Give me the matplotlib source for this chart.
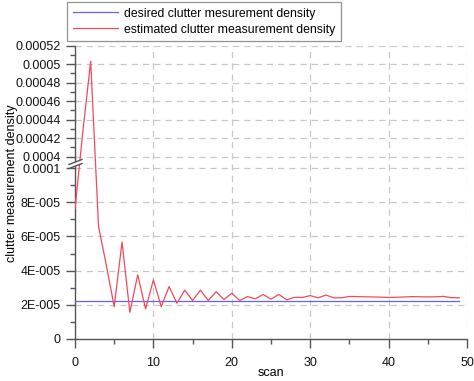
import numpy as np
import matplotlib
matplotlib.use("Agg")
import matplotlib.pyplot as plt
from matplotlib.lines import Line2D
from matplotlib.patches import Polygon

plt.rcParams['font.family'] = ['Liberation Sans', 'DejaVu Sans']
plt.rcParams['font.size'] = 8.8

# ---- data ----
scan = list(range(50))
estimated = [7.6e-5, 4.27e-4, 5.03e-4, 6.6e-5, 4.3e-5, 1.88e-5, 5.67e-5, 1.55e-5, 3.75e-5, 1.75e-5,
             3.45e-5, 1.88e-5, 3.06e-5, 2.08e-5, 2.85e-5, 2.24e-5, 2.85e-5, 2.24e-5, 2.76e-5, 2.30e-5,
             2.67e-5, 2.24e-5, 2.47e-5, 2.34e-5, 2.60e-5, 2.32e-5, 2.60e-5, 2.28e-5, 2.43e-5, 2.42e-5,
             2.53e-5, 2.40e-5, 2.56e-5, 2.40e-5, 2.40e-5, 2.48e-5, 2.47e-5, 2.46e-5, 2.45e-5, 2.44e-5,
             2.42e-5, 2.43e-5, 2.45e-5, 2.47e-5, 2.46e-5, 2.45e-5, 2.46e-5, 2.48e-5, 2.41e-5, 2.40e-5]
desired = [2.2e-5] * 50
xticks = [0, 10, 20, 30, 40, 50]
yticks = [0, 2e-5, 4e-5, 6e-5, 8e-5, 1e-4, 4e-4, 4.2e-4, 4.4e-4, 4.6e-4, 4.8e-4, 5e-4, 5.2e-4]
ytick_labels = ["0", "2E-005", "4E-005", "6E-005", "8E-005", "0.0001", "0.0004",
                "0.00042", "0.00044", "0.00046", "0.00048", "0.0005", "0.00052"]
y_minor = [1e-5, 3e-5, 5e-5, 7e-5, 9e-5, 4.1e-4, 4.3e-4, 4.5e-4, 4.7e-4, 4.9e-4, 5.1e-4]

W, H = 474, 381
fig = plt.figure(figsize=(W / 100, H / 100), dpi=100)

# axes geometry (pixels)
x0, x1 = 75, 467
yb, yt = 338.7, 45.5
ax = fig.add_axes([x0 / W, (H - yb) / H, (x1 - x0) / W, (yb - yt) / H])

# piecewise (broken) y scale
lo_px = 170.4
gap_px = 11.6
hi_px = (yb - yt) - lo_px - gap_px
lo_top, hi_bot, hi_top = 1e-4, 4e-4, 5.2e-4
xp = np.array([-1.0, 0.0, lo_top, hi_bot, hi_top, 1.0])
s_lo = lo_px / lo_top
s_hi = hi_px / (hi_top - hi_bot)
fp = np.array([-1.0 * s_lo, 0.0, lo_px, lo_px + gap_px, lo_px + gap_px + hi_px,
               lo_px + gap_px + hi_px + (1.0 - hi_top) * s_hi])


def fwd(y):
    return np.interp(y, xp, fp)


def inv(v):
    return np.interp(v, fp, xp)


ax.set_yscale('function', functions=(fwd, inv))

red = '#f5485a'
blue = '#6262f5'
ax.plot(scan, desired, color=blue, lw=0.9, label='desired clutter mesurement density', zorder=3)
ax.plot(scan, estimated, color=red, lw=0.9, label='estimated clutter measurement density', zorder=4)

ax.set_xlim(0, 50)
ax.set_ylim(0, 5.2e-4)
ax.set_xticks(xticks)
ax.set_xticks([5, 15, 25, 35, 45], minor=True)
ax.set_yticks(yticks)
ax.set_yticklabels(ytick_labels)
ax.set_yticks(y_minor, minor=True)

spine_c = '#555555'
for s in ['top', 'right']:
    ax.spines[s].set_visible(False)
for s in ['left', 'bottom']:
    ax.spines[s].set_color(spine_c)
    ax.spines[s].set_linewidth(1.0)

ax.tick_params(axis='both', which='major', length=6.5, width=1.0, color=spine_c,
               labelcolor='#111111', labelsize=9)
ax.tick_params(axis='both', which='minor', length=3.6, width=1.0, color=spine_c)
ax.tick_params(axis='y', which='major', pad=4)
ax.tick_params(axis='x', which='major', pad=7)

ax.grid(True, which='major', color='#c8c8c8', linestyle=(0, (5, 4)), linewidth=0.9, zorder=0)
ax.set_axisbelow(True)

fig.text(271 / W, 1 - 373 / H, 'scan', ha='center', va='center', fontsize=9)
fig.text(12 / W, 1 - 183 / H, 'clutter measurement density', rotation=90,
         ha='center', va='center', fontsize=9)

# break marks on the y axis
def px(x, y):
    return (x / W, 1 - y / H)

poly = Polygon([px(69, 164.5), px(82, 159.5), px(82, 163.5), px(69, 168.5)],
               closed=True, transform=fig.transFigure, facecolor='white', edgecolor='none', zorder=10)
fig.add_artist(poly)
for (ya, yb_) in [(164.5, 159.5), (168.5, 163.5)]:
    fig.add_artist(Line2D([69 / W, 82 / W], [1 - ya / H, 1 - yb_ / H], transform=fig.transFigure,
                          color=spine_c, lw=1.0, zorder=11))

leg = fig.legend(loc='upper left', bbox_to_anchor=(67 / W, 1 - 2 / H), frameon=True, fancybox=False,
                 edgecolor='#777777', handlelength=3.75, handletextpad=0.45, borderpad=0.45,
                 labelspacing=0.35, borderaxespad=0)
leg.get_frame().set_linewidth(0.9)

fig.savefig('out.png', dpi=100)
